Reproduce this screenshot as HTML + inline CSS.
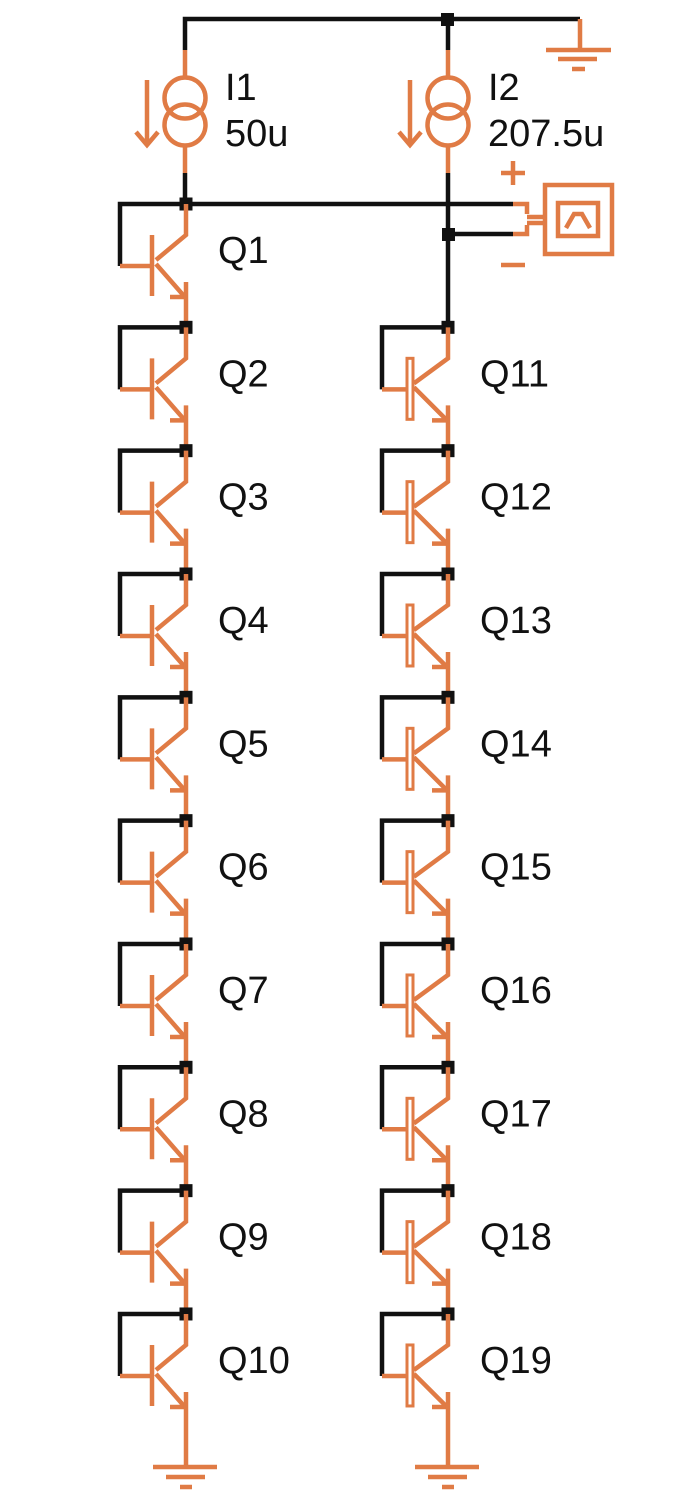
<!DOCTYPE html>
<html><head><meta charset="utf-8"><style>
html,body{margin:0;padding:0;background:#fff;}
svg{display:block}
text{font-family:"Liberation Sans",sans-serif;font-size:38px;fill:#111}
</style></head><body>
<svg width="700" height="1500" viewBox="0 0 700 1500" xmlns="http://www.w3.org/2000/svg">
<g fill="none" stroke-linecap="butt" stroke-width="4.5">
<path d="M185 50 V19 H580" stroke="#111"/>
<path d="M580 19 V50 M546 50 H611 M558 59 H597 M572 69 H585" stroke="#E07B45"/>
<rect x="441" y="13" width="13" height="13" fill="#111" stroke="none"/>
<path d="M448 19 V50" stroke="#111"/>
<path d="M185 50 V77 M185 146 V173" stroke="#E07B45"/>
<circle cx="185" cy="98" r="20.5" stroke="#E07B45"/>
<circle cx="185" cy="125" r="20.5" stroke="#E07B45"/>
<path d="M147 80 V145 M136 132 L147 145 L158 132" stroke="#E07B45"/>
<path d="M185 173 V204" stroke="#111"/>
<path d="M448 50 V77 M448 146 V173" stroke="#E07B45"/>
<circle cx="448" cy="98" r="20.5" stroke="#E07B45"/>
<circle cx="448" cy="125" r="20.5" stroke="#E07B45"/>
<path d="M410 80 V145 M399 132 L410 145 L421 132" stroke="#E07B45"/>
<path d="M448 173 V326" stroke="#111"/>
<path d="M120 266 V204 H513 M448 234 H513" stroke="#111"/>
<rect x="442" y="228" width="13" height="13" fill="#111" stroke="none"/>
<path d="M513 204 H527 V214 M513 234 H527 V225 M527 217 H545 M527 223 H545" stroke="#E07B45"/>
<rect x="545" y="185" width="67" height="69" stroke="#E07B45"/>
<rect x="558" y="203" width="40" height="33" stroke="#E07B45"/>
<path d="M566 228 L574 214 H582 L590 228" stroke="#E07B45"/>
<path d="M501 173 H525 M513 161 V185 M501 265 H525" stroke="#E07B45"/>
</g>
<g id="cols" fill="none" stroke-width="4.5">
</g>
<text x="225" y="100">I1</text>
<text x="225" y="146">50u</text>
<text x="488" y="100">I2</text>
<text x="488" y="146">207.5u</text>
<g id="lab"></g>
<script>
var ns="http://www.w3.org/2000/svg",g=document.getElementById('cols'),lb=document.getElementById('lab');
function p(d,c){var e=document.createElementNS(ns,'path');e.setAttribute('d',d);e.setAttribute('stroke',c);g.appendChild(e);}
function r(x,y,w,h){var e=document.createElementNS(ns,'rect');e.setAttribute('x',x);e.setAttribute('y',y);e.setAttribute('width',w);e.setAttribute('height',h);e.setAttribute('fill','#111');g.appendChild(e);}
function t(x,y,s){var e=document.createElementNS(ns,'text');e.setAttribute('x',x);e.setAttribute('y',y);e.textContent=s;lb.appendChild(e);}
var O='#E07B45',B='#111';
for(var i=0;i<10;i++){
 var y=204+i*123.33;
 var x=186,lx=120,bx=152;
 r(x-6.5,y-6.5,13,13);
 if(i>0)p('M'+lx+' '+(y+62)+' V'+y+' H'+x,B);
 p('M'+lx+' '+(y+62)+' H'+bx,O);
 p('M'+bx+' '+(y+31)+' V'+(y+92),O);
 p('M'+x+' '+y+' V'+(y+31)+' L'+(bx+4)+' '+(y+56),O);
 p('M'+(bx+4)+' '+(y+60)+' L'+(x-2)+' '+(y+92)+' M'+(x-16)+' '+(y+93)+' H'+x,O);
 var ye=(i<9)?(y+123.33):1467;
 p('M'+x+' '+(y+78)+' V'+ye,O);
 t(218,y+59,'Q'+(i+1));
 if(i<9){
 x=448;lx=382;bx=410;
 var yy=204+(i+1)*123.33;
 r(x-6.5,yy-6.5,13,13);
 p('M'+lx+' '+(yy+62)+' V'+yy+' H'+x,B);
 p('M'+lx+' '+(yy+62)+' H'+(bx-3),O);
 var e=document.createElementNS(ns,'rect');e.setAttribute('x',bx-3);e.setAttribute('y',yy+31);e.setAttribute('width',6);e.setAttribute('height',61);e.setAttribute('stroke',O);e.setAttribute('stroke-width','3');g.appendChild(e);
 p('M'+x+' '+yy+' V'+(yy+31)+' L'+(bx+4)+' '+(yy+56),O);
 p('M'+(bx+4)+' '+(yy+60)+' L'+(x-2)+' '+(yy+92)+' M'+(x-16)+' '+(yy+93)+' H'+x,O);
 var ye2=(i<8)?(yy+123.33):1467;
 p('M'+x+' '+(yy+78)+' V'+ye2,O);
 t(480,yy+59,'Q'+(i+11));
 }
}
p('M153 1467 H217 M166 1477 H205 M180 1487 H192',O);
p('M415 1467 H479 M428 1477 H467 M442 1487 H454',O);
</script>
</svg>
</body></html>
